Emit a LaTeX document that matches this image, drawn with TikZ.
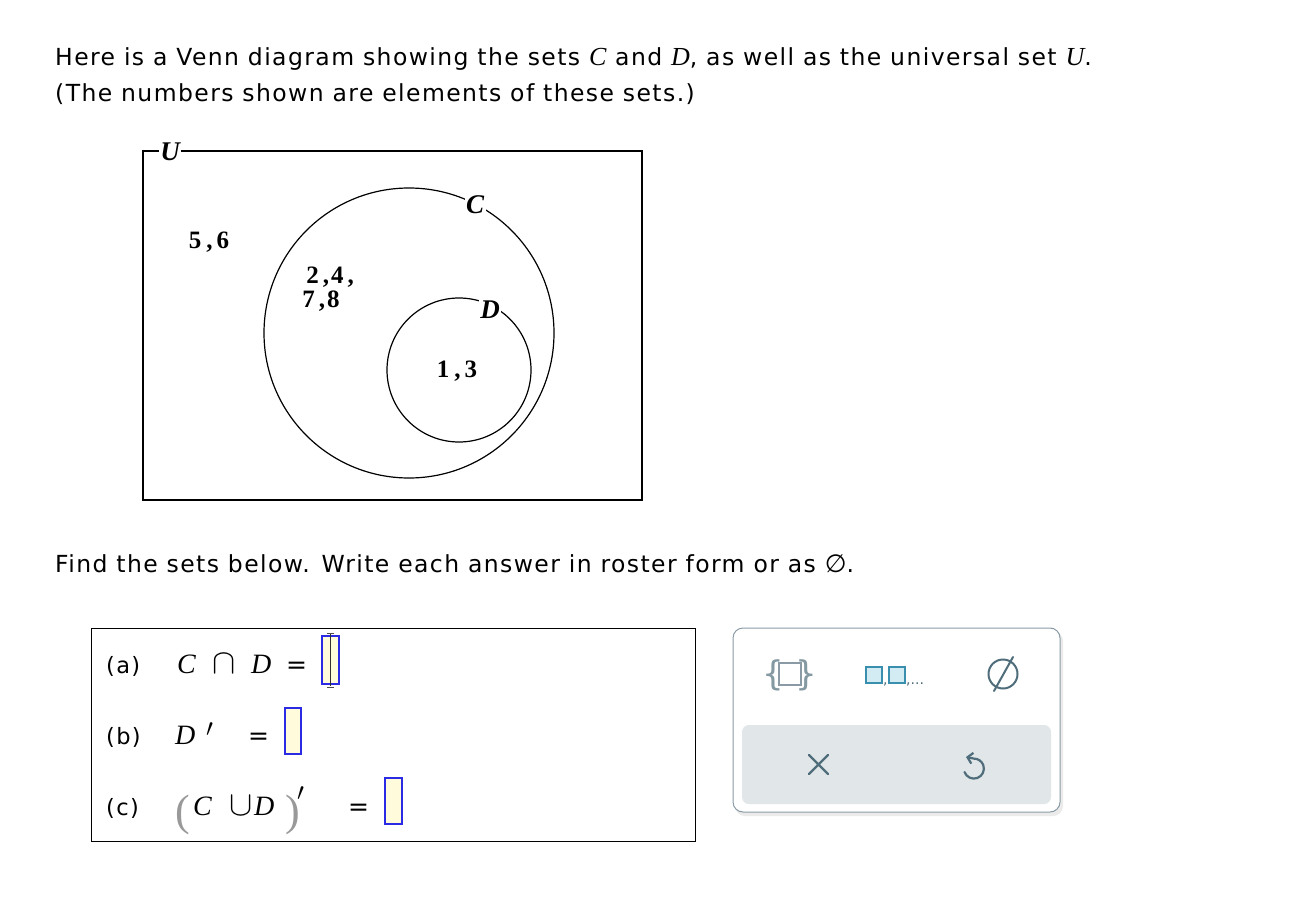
\documentclass[tikz,border=0pt]{standalone}
\usepackage{fontspec}
\usepackage{graphicx}
\setmainfont{DejaVu Sans}[LetterSpace=6]
\newfontfamily\tms{Liberation Serif}
\newfontfamily\djv{DejaVu Sans}
\usetikzlibrary{arrows.meta}
\definecolor{boxblue}{HTML}{2B2BE6}
\definecolor{boxfill}{HTML}{FFFBDB}
\definecolor{slate}{HTML}{4F6D7A}
\definecolor{tealb}{HTML}{3A8FAE}
\definecolor{tealf}{HTML}{D3ECF3}
\definecolor{greyb}{HTML}{8A9BA6}
\definecolor{panel}{HTML}{E1E6E9}
\newcommand{\mi}[1]{{\tms\itshape\fontsize{26}{26}\selectfont #1}}
\begin{document}
\begin{tikzpicture}[x=1pt,y=-1pt,
  body/.style={font=\fontsize{23.5}{26}\selectfont, anchor=base west, inner sep=0},
  lab/.style={font=\fontsize{22.5}{25}\selectfont, anchor=base west, inner sep=0},
  mth/.style={font=\tms\itshape\fontsize{28}{28}\selectfont, anchor=base west, inner sep=0},
  ops/.style={font=\djv\fontsize{25}{25}\selectfont, anchor=base west, inner sep=0},
  setop/.style={font=\fontsize{24}{24}\selectfont, anchor=base west, inner sep=0},
  prm/.style={font=\fontsize{24}{24}\selectfont, anchor=base west, inner sep=0},
  vlab/.style={font=\tms\bfseries\fontsize{25}{25}\selectfont, inner sep=0, anchor=base},
  setlab/.style={font=\tms\bfseries\itshape\fontsize{27}{27}\selectfont, fill=white, inner sep=1.5pt},
  inbox/.style={draw=boxblue, fill=boxfill, line width=1.3pt},
  venn/.style={line width=1.2pt},
  icon/.style={line width=2pt, draw=slate, line cap=round},
]
\useasboundingbox[fill=white] (0,0) rectangle (1306,920);

% header text
\node[body] (t1) at (55,66) {Here is a Venn diagram showing the sets \mi{C} and \mi{D}, as well as the universal set \mi{U}.};
\node[body] (t2) at (55,102) {(The numbers shown are elements of these sets.)};

% Venn diagram
\draw[venn] (143,151) rectangle (642,500);
\draw[venn] (409,333) circle (145);
\draw[venn] (459,370) circle (72);
\node[setlab] (U) at (170,152) {U};
\node[setlab] (C) at (475,205) {C};
\node[setlab] (D) at (490,310) {D};
\node[vlab] (n56) at (209,248) {5\kern5pt,\kern4pt6};
\node[vlab] (n24) at (330,283) {2\kern4pt,\kern2pt4\kern4pt,};
\node[vlab] (n78) at (321,307) {7\kern4pt,\kern2pt8};
\node[vlab] (n13) at (457,377) {1\kern5pt,\kern4pt3};

% instruction
\node[body] (t3) at (55,572) {Find the sets below. Write each answer in roster form or as {\djv\itshape\fontsize{25}{25}\selectfont ∅}.};

% answer box
\draw[line width=1pt] (91,628) rectangle (695,841);
\node[lab] (la) at (106,673) {(a)};
\node[lab] (lb) at (106,744) {(b)};
\node[lab] (lc) at (106,815) {(c)};
% (a)
\node[mth] (aC) at (177,673) {C};
\node[setop] (acap) at (212,673) {\scalebox{1.4}{$\cap$}};
\node[mth] (aD) at (251,673) {D};
\node[ops] (aeq) at (286,673) {=};
% (b)
\node[mth] (bD) at (175,744) {D};
\node[prm] (bp) at (206,736) {$\prime$};
\node[ops] (beq) at (248,744) {=};
% (c)
\node[body, text=gray!80, font=\tms\fontsize{44}{44}\selectfont] (pl) at (175,825) {(};
\node[mth] (cC) at (193,815) {C};
\node[setop] (ccup) at (229,815) {\scalebox{1.4}{$\cup$}};
\node[mth] (cD) at (254,815) {D};
\node[body, text=gray!80, font=\tms\fontsize{44}{44}\selectfont] (pr) at (285,825) {)};
\node[prm] (cp) at (297,800) {$\prime$};
\node[ops] (ceq) at (348,815) {=};
\draw[inbox] (322,636) rectangle (339,684);
\draw[inbox] (285,708) rectangle (301,754);
\draw[inbox] (385,778) rectangle (402,824);
% cursor
\draw[line width=1.2pt, black!80] (330.5,634) -- (330.5,686);
\draw[line width=0.8pt, black!70] (327,633) -- (334,633) (327,687) -- (334,687);

% toolbar
\fill[black!8, rounded corners=10pt] (735,631) rectangle (1063,816);
\draw[greyb, line width=1pt, fill=white, rounded corners=10pt] (733,628) rectangle (1060,812);
\fill[panel, rounded corners=7pt] (742,725) rectangle (1051,804);
% {[]}
\node[font=\djv\fontsize{34}{34}\selectfont, text=slate!70, inner sep=0] (lbrace) at (773,675) {\{};
\node[font=\djv\fontsize{34}{34}\selectfont, text=slate!70, inner sep=0] (rbrace) at (806,675) {\}};
\draw[greyb, line width=2.6pt] (779,663) rectangle (801,685);
% [],[],...
\draw[tealb, fill=tealf, line width=2pt] (866,667) rectangle (882,683);
\draw[tealb, fill=tealf, line width=2pt] (889,667) rectangle (905,683);
\node[font=\djv\fontsize{14}{14}\selectfont, text=slate, inner sep=0, anchor=base west] (c1) at (883,684) {,};
\node[font=\djv\fontsize{14}{14}\selectfont, text=slate, inner sep=0, anchor=base west] (c2) at (906,684) {,...};
% empty set
\draw[icon] (1003,674) circle (14.5);
\draw[icon] (1013,657) -- (994,691);
% times
\draw[icon, line width=2.2pt] (809,755) -- (828,774) (828,755) -- (809,774);
% undo
\draw[icon, line width=2.2pt, -{Straight Barb[length=5pt,width=11pt]}] (964.5,772) arc[start angle=160, end angle=-90, radius=10] -- (966,757);
\end{tikzpicture}
\end{document}
